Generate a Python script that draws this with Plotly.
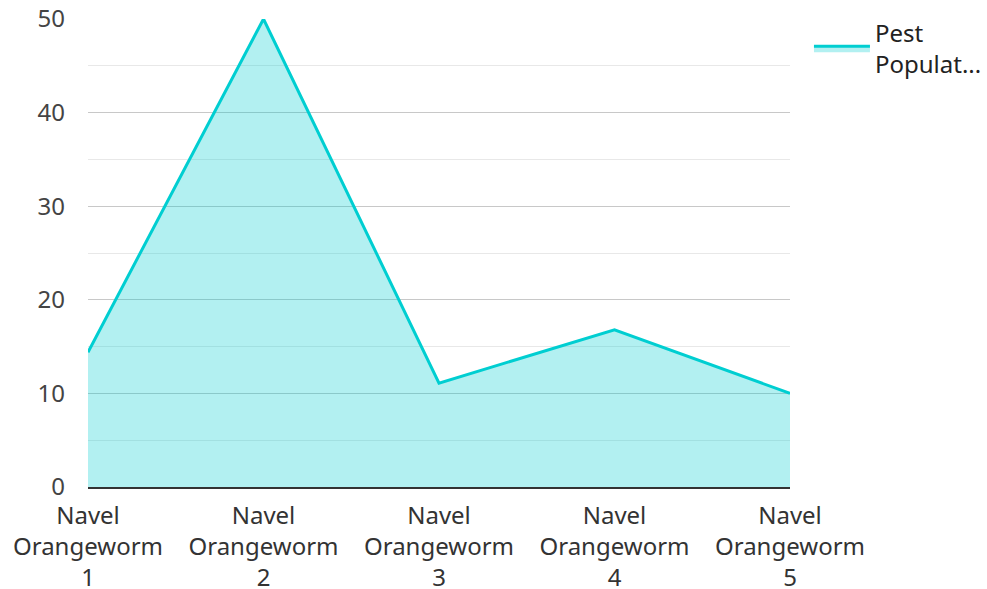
import plotly.graph_objects as go

categories = ["Navel<br>Orangeworm<br>1", "Navel<br>Orangeworm<br>2", "Navel<br>Orangeworm<br>3",
              "Navel<br>Orangeworm<br>4", "Navel<br>Orangeworm<br>5"]
values = [14.4, 50, 11.1, 16.8, 10.0]
series_name = "Pest<br>Populat..."
y_ticks = [0, 10, 20, 30, 40, 50]

fig = go.Figure()
fig.add_trace(go.Scatter(
    x=categories, y=values, name=series_name, mode="lines",
    line=dict(color="#00CED1", width=3),
    fill="tozeroy", fillcolor="rgba(0,206,209,0.3)",
))
fig.update_layout(
    width=987, height=589,
    margin=dict(l=88, r=197, t=19, b=102, autoexpand=False),
    paper_bgcolor="white", plot_bgcolor="white",
    font=dict(family="Noto Sans", size=24, color="#333333"),
    showlegend=True,
    legend=dict(x=1.027, y=1.018, xanchor="left", yanchor="top",
                font=dict(size=24, color="#222222"), itemwidth=56,
                tracegroupgap=0),
    xaxis=dict(range=[0, 4], showgrid=False, showline=True, linecolor="#333333",
               linewidth=2, ticks="", tickfont=dict(size=24, color="#333333"),
               automargin=False, ticklabelstandoff=6),
    yaxis=dict(range=[0, 50], tickvals=y_ticks, showgrid=True, gridcolor="#c8c8c8",
               gridwidth=1, zeroline=False, ticks="", ticklen=0,
               minor=dict(dtick=5, showgrid=True, gridcolor="#e8e8e8", gridwidth=1),
               tickfont=dict(size=24, color="#444444"), automargin=False,
               ticklabelstandoff=22),
)
fig.write_html("out.html", config={"displayModeBar": False},
               post_script="document.body.style.margin='0';")
